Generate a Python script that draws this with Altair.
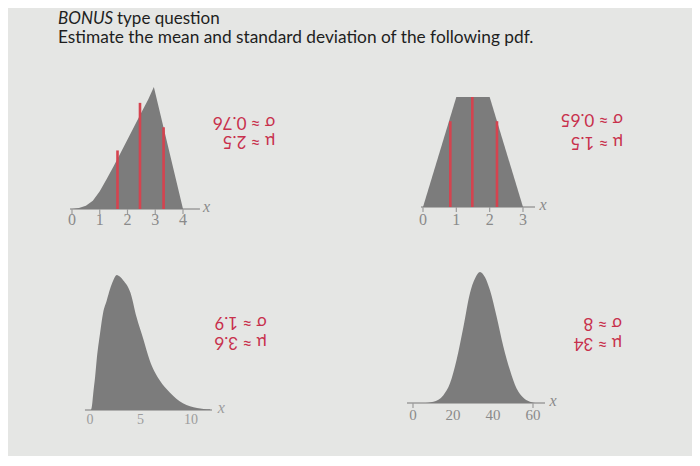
import altair as alt
import pandas as pd

# ---------------- data ----------------
# Panel 1 (top left): skewed triangle-like pdf on [0, 4]
p1_x = [0, 0.25, 0.5, 0.75, 1.0, 1.25, 1.5, 1.75, 2.0, 2.25, 2.5, 2.75, 2.95, 4.0]
p1_f = [0, 0.008, 0.027, 0.068, 0.145, 0.245, 0.35, 0.46, 0.57, 0.68, 0.79, 0.9, 1.0, 0]
p1_lines_x = [1.64, 2.45, 3.3]
p1_lines_f = [0.48, 0.87, 0.67]
p1_ticks = [0, 1, 2, 3, 4]
p1_tickmarks = [0, 1, 2, 3, 4]
p1_mu, p1_sigma = "μ ≈ 2.5", "σ ≈ 0.76"

# Panel 2 (top right): trapezoid pdf on [0, 3]
p2_x = [0, 1, 2, 3]
p2_f = [0, 1, 1, 0]
p2_lines_x = [0.82, 1.48, 2.22]
p2_lines_f = [0.78, 1.0, 0.78]
p2_ticks = [0, 1, 2, 3]
p2_tickmarks = [0, 1, 2, 3]
p2_mu, p2_sigma = "μ ≈ 1.5", "σ ≈ 0.65"

# Panel 3 (bottom left): right-skewed pdf
p3_x = [0.1, 0.17, 0.33, 0.5, 0.66, 1.0, 1.3, 1.65, 2.0, 2.3, 2.65, 3.0, 3.3, 4.0,
        4.6, 5.3, 5.9, 6.9, 7.9, 9.2, 10.6, 11.9]
p3_f = [0, 0.02, 0.13, 0.24, 0.37, 0.57, 0.72, 0.81, 0.9, 0.96, 1.0, 0.985, 0.96, 0.87,
        0.69, 0.52, 0.37, 0.22, 0.13, 0.05, 0.015, 0.005]
p3_ticks = [0, 5, 10]
p3_tickmarks = []
p3_mu, p3_sigma = "μ ≈ 3.6", "σ ≈ 1.9"

# Panel 4 (bottom right): bell-shaped pdf
p4_x = [5, 10.2, 15.2, 18.5, 21.8, 25.2, 28.5, 31, 33.5, 36, 38.5, 41.8, 45.2, 48.5,
        51.8, 55.2, 58.5, 62]
p4_f = [0, 0.01, 0.06, 0.15, 0.33, 0.58, 0.84, 0.95, 1.0, 0.96, 0.86, 0.66, 0.43, 0.25,
        0.11, 0.04, 0.01, 0]
p4_ticks = [0, 20, 40, 60]
p4_tickmarks = [0, 60]
p4_mu, p4_sigma = "μ ≈ 34", "σ ≈ 8"

title_italic = "BONUS"
title_rest = "type question"
subtitle = "Estimate the mean and standard deviation of the following pdf."

# ---------------- layout / style ----------------
W, H = 684, 448
OX, OY = 8, 8  # page margin
BG = "#e5e6e4"
AREA = "#7c7c7c"
RED_LINE = "#d5434f"
RED_TEXT = "#c8304c"
AXIS = "#9c9c9c"
LABEL = "#8a8a8a"

layouts = {
    1: dict(px0=72, kx=27.75, py0=209, peak=122, axis=(-0.07, 4.61), xlab=4.85,
            lsize=16, ldy=11, tmu=(7.32, 0.557), tsig=(7.32, 0.713), lcolor=LABEL,
            interp="linear"),
    2: dict(px0=423, kx=33.33, py0=207, peak=110, axis=(-0.06, 3.36), xlab=3.6,
            lsize=16, ldy=13, tmu=(6.0, 0.59), tsig=(6.0, 0.80), lcolor=LABEL,
            interp="linear"),
    3: dict(px0=90, kx=10.1, py0=410, peak=135, axis=(-0.5, 12.08), xlab=13.0,
            lsize=14, ldy=10, tmu=(17.5, 0.504), tsig=(17.5, 0.652), lcolor="#9c9c9c",
            interp="monotone"),
    4: dict(px0=413, kx=2.0, py0=403, peak=131, axis=(-3, 66), xlab=70,
            lsize=15, ldy=12, tmu=(104.5, 0.458), tsig=(104.5, 0.61), lcolor=LABEL,
            interp="monotone"),
}


def panel(n, xs, fs, lines_x, lines_f, ticks, tickmarks, mu, sigma):
    L = layouts[n]
    xdom = [(OX - L["px0"]) / L["kx"], (OX + W - L["px0"]) / L["kx"]]
    ydom = [(L["py0"] - (OY + H)) / L["peak"], (L["py0"] - OY) / L["peak"]]
    sx = alt.Scale(domain=xdom, nice=False, zero=False)
    sy = alt.Scale(domain=ydom, nice=False, zero=False)

    def X(f):
        return alt.X(f, type="quantitative", scale=sx, axis=None)

    def Y(f):
        return alt.Y(f, type="quantitative", scale=sy, axis=None)

    layers = []
    axis_df = pd.DataFrame({"a": [L["axis"][0]], "b": [L["axis"][1]], "z": [0]})
    layers.append(alt.Chart(axis_df).mark_rule(color=AXIS, strokeWidth=1.3).encode(
        x=X("a"), x2="b", y=Y("z")))
    if tickmarks:
        tdf = pd.DataFrame({"t": tickmarks, "z": 0, "z2": -5 / L["peak"]})
        layers.append(alt.Chart(tdf).mark_rule(color=AXIS, strokeWidth=1.2).encode(
            x=X("t"), y=Y("z"), y2="z2"))
    df = pd.DataFrame({"x": xs, "f": fs})
    layers.append(alt.Chart(df).mark_area(color=AREA, opacity=1,
                                          interpolate=L["interp"]).encode(
        x=X("x"), y=Y("f")))
    if lines_x:
        ldf = pd.DataFrame({"x": lines_x, "z": 0, "f": lines_f})
        layers.append(alt.Chart(ldf).mark_rule(color=RED_LINE, strokeWidth=2.6).encode(
            x=X("x"), y=Y("z"), y2="f"))
    lab = pd.DataFrame({"t": ticks, "z": 0, "s": [str(t) for t in ticks]})
    layers.append(alt.Chart(lab).mark_text(
        font="Liberation Serif", fontSize=L["lsize"], color=L["lcolor"],
        baseline="middle", align="center", dy=L["ldy"]).encode(
        x=X("t"), y=Y("z"), text="s:N"))
    xl = pd.DataFrame({"x": [L["xlab"]], "z": [0], "s": ["x"]})
    layers.append(alt.Chart(xl).mark_text(
        font="Liberation Serif", fontStyle="italic", fontSize=16, color=L["lcolor"],
        baseline="middle", align="center", dy=-2).encode(
        x=X("x"), y=Y("z"), text="s:N"))
    tdf = pd.DataFrame({"x": [L["tmu"][0], L["tsig"][0]],
                        "y": [L["tmu"][1], L["tsig"][1]],
                        "s": [mu, sigma]})
    layers.append(alt.Chart(tdf).mark_text(
        font="Lato", fontSize=17, color=RED_TEXT, angle=180, align="left",
        baseline="middle").encode(x=X("x"), y=Y("y"), text="s:N"))
    return alt.layer(*layers)


p1 = panel(1, p1_x, p1_f, p1_lines_x, p1_lines_f, p1_ticks, p1_tickmarks, p1_mu, p1_sigma)
p2 = panel(2, p2_x, p2_f, p2_lines_x, p2_lines_f, p2_ticks, p2_tickmarks, p2_mu, p2_sigma)
p3 = panel(3, p3_x, p3_f, [], [], p3_ticks, p3_tickmarks, p3_mu, p3_sigma)
p4 = panel(4, p4_x, p4_f, [], [], p4_ticks, p4_tickmarks, p4_mu, p4_sigma)

hdr = pd.DataFrame({"s": [title_italic]})
h1 = alt.Chart(hdr).mark_text(font="Lato", fontSize=17, fontStyle="italic", color="#1e1e1e",
                              align="left", baseline="alphabetic").encode(
    text="s:N", x=alt.value(50), y=alt.value(16))
h2 = alt.Chart(pd.DataFrame({"s": [title_rest]})).mark_text(
    font="Lato", fontSize=17, color="#1e1e1e", align="left", baseline="alphabetic").encode(
    text="s:N", x=alt.value(109), y=alt.value(16))
h3 = alt.Chart(pd.DataFrame({"s": [subtitle]})).mark_text(
    font="Lato", fontSize=17.3, color="#1e1e1e", align="left", baseline="alphabetic").encode(
    text="s:N", x=alt.value(50), y=alt.value(35))

chart = alt.layer(p1, p2, p3, p4, h1, h2, h3).resolve_scale(
    x="independent", y="independent"
).properties(width=W, height=H, padding=0, autosize="none", background=BG
).configure_view(stroke=None)

chart.save("out.html", embed_options={"renderer": "svg", "actions": False})
